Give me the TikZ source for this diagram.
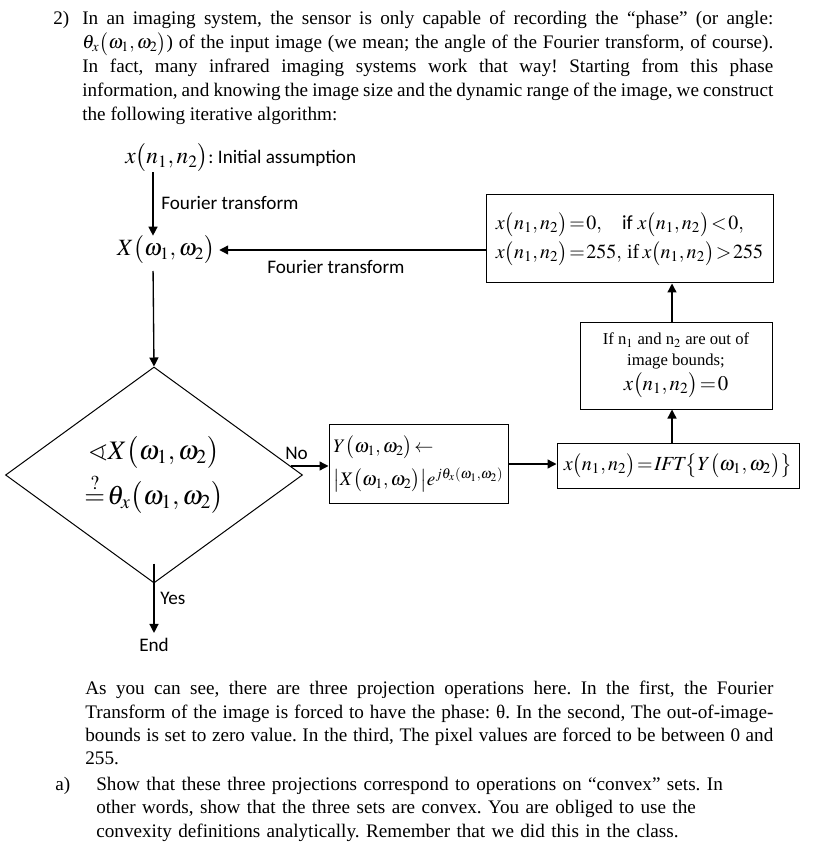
\documentclass[tikz,border=0pt]{standalone}
\usepackage{amsmath}
\usepackage{mathptmx}
\usepackage{amssymb}
\usepackage{fontspec}
\setmainfont{Liberation Serif}
\newfontfamily\calibri{Carlito}
\usetikzlibrary{arrows.meta,shapes.geometric,calc}
\frenchspacing
\begin{document}
\begin{tikzpicture}[x=0.6pt, y=-0.6pt,
    arr/.style={line width=0.8pt, -{Triangle[length=5.4pt,width=5.4pt]}},
    box/.style={draw, line width=0.6pt, inner sep=0pt},
    lbl/.style={font=\calibri\fontsize{11.5}{14}\selectfont, inner sep=0pt},
    para/.style={inner sep=0pt, anchor=north west, font=\fontsize{11.5}{14}\selectfont}]
    \thickmuskip=1.5mu \medmuskip=1mu
    \useasboundingbox (0,0) rectangle (813,853);
    % Texto del enunciado
    \node[para, text width=432pt, align=justify, font=\fontsize{11.5}{14.4}\selectfont] (intro) at (53,11) {%
        \hangindent=17.4pt \hangafter=1 \makebox[17.4pt][l]{2)}In an imaging system, the sensor is only capable of recording the ``phase'' (or angle:\linebreak
        $\theta_x\bigl(\omega_1,\omega_2\bigr)$) of the input image (we mean; the angle of the Fourier transform, of course).\linebreak
        In fact, many infrared imaging systems work that way! Starting from this phase\linebreak
        information, and knowing the image size and the dynamic range of the image, we construct\linebreak
        the following iterative algorithm:\par};
    % Ejes verticales de las flechas
    \coordinate (spineL) at (153,0);
    \coordinate (spineR) at (672,0);
    % Nodos del diagrama
    \node[lbl, anchor=west] (init) at (125,158) {{\fontsize{14}{16}\selectfont$x\bigl(n_1,n_2\bigr)$}: Initial assumption};
    \node[lbl, anchor=west] (ft1) at (161,203) {Fourier transform};
    \node[inner sep=0pt, font=\fontsize{14}{16}\selectfont] (X) at (166,250) {$X\bigl(\omega_1,\omega_2\bigr)$};
    \node[lbl, anchor=west] (ft2) at (267,267) {Fourier transform};
    \node[box, minimum width=172.2pt, minimum height=52.8pt, align=left, font=\fontsize{12}{17.4}\selectfont] (clip) at (629.5,239)
        {$x\bigl(n_1,n_2\bigr)=0,$\quad {\calibri if} $x\bigl(n_1,n_2\bigr)<0,$\\
         $x\bigl(n_1,n_2\bigr)=255,$ if\,$x\bigl(n_1,n_2\bigr)>255$};
    \node[box, minimum width=115.2pt, minimum height=52.2pt, align=center, font=\fontsize{10}{12.5}\selectfont] (bounds) at (676,365.5)
        {If n$_1$ and n$_2$ are out of\\ image bounds;\\[1pt] {\fontsize{12.5}{15}\selectfont$x\bigl(n_1,n_2\bigr)=0$}};
    \node[diamond, draw, line width=0.6pt, minimum width=178.2pt, minimum height=129.6pt, aspect=1.375, inner sep=0pt,
        align=center, font=\fontsize{16}{27}\selectfont] (dia) at (154,475)
        {$\sphericalangle X\bigl(\omega_1,\omega_2\bigr)$\\ $\stackrel{?}{=}\theta_x\bigl(\omega_1,\omega_2\bigr)$};
    \node[box, minimum width=107.4pt, minimum height=47.4pt, align=left, font=\fontsize{11.5}{20}\selectfont] (ybox) at (418.5,464)
        {$Y\bigl(\omega_1,\omega_2\bigr)\leftarrow$\\ $\bigl|X\bigl(\omega_1,\omega_2\bigr)\bigr|e^{j\theta_x(\omega_1,\omega_2)}$};
    \node[box, minimum width=145.2pt, minimum height=27pt, font=\fontsize{12}{16}\selectfont] (ift) at (678,465.5)
        {$x\bigl(n_1,n_2\bigr)=\mathit{IFT}\bigl\{Y\bigl(\omega_1,\omega_2\bigr)\bigr\}$};
    \node[lbl, anchor=west] (no) at (285,453) {No};
    \node[lbl, anchor=west] (yes) at (160,598) {Yes};
    \node[lbl] (stop) at (154,645) {End};
    % Flechas
    \draw[arr] (init.south -| spineL) -- (X.north -| spineL);
    \draw[arr, shorten <=4pt] (X.south -| spineL) -- (dia.north);
    \coordinate (noStart) at ($(dia.east)!0.083!(dia.north)$);
    \draw[arr] (noStart) -- (noStart -| ybox.west);
    \draw[arr] (ybox.east) -- (ybox.east -| ift.west);
    \draw[arr] (ift.north -| spineR) -- (bounds.south -| spineR);
    \draw[arr] (bounds.north -| spineR) -- (clip.south -| spineR);
    \draw[arr, shorten >=2.4pt] (clip.west |- X.east) -- (X.east);
    \draw[arr, shorten >=3pt] ($(dia.south)+(0,-20)$) -- (stop.north);
    % Texto final
    \node[para, text width=412.8pt, align=justify] (outro) at (85,681) {As you can see, there are three projection operations here. In the first, the Fourier\linebreak
        Transform of the image is forced to have the phase: θ. In the second, The out-of-image-\linebreak
        bounds is set to zero value. In the third, The pixel values are forced to be between 0 and\linebreak
        255.};
    \node[para, text width=430.8pt, align=left] (parta) at (55,777) {%
        \hangindent=24.6pt \hangafter=1 \makebox[24.6pt][l]{a)}Show that these three projections correspond to operations on ``convex'' sets. In\newline
        other words, show that the three sets are convex. You are obliged to use the\newline
        convexity definitions analytically. Remember that we did this in the class.\par};
\end{tikzpicture}
\end{document}
